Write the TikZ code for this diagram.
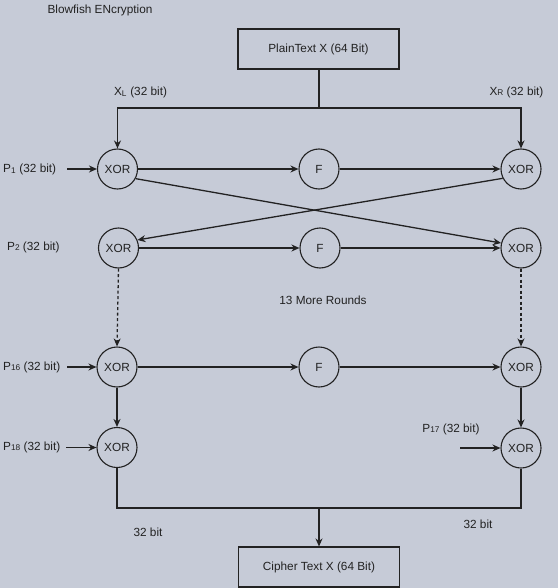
\documentclass[tikz,border=0pt]{standalone}
\usepackage{fontspec}
\setmainfont{Liberation Sans}
\usetikzlibrary{arrows.meta}
\definecolor{bgc}{RGB}{198,203,215}
\definecolor{ink}{RGB}{34,34,34}
\newcommand{\smtxt}[1]{{\fontsize{8.3}{10}\selectfont #1}}
\begin{document}
\begin{tikzpicture}[x=1pt,y=-1pt,
  every node/.style={font=\fontsize{11.8}{14}\selectfont, text=ink},
  gate/.style={circle, draw=ink, line width=1.1pt, minimum size=40pt, inner sep=0pt},
  blk/.style={rectangle, draw=ink, line width=1.1pt, minimum width=161pt, minimum height=40pt, inner sep=0pt},
  lbl/.style={inner sep=0pt},
  conn/.style={draw=ink, line width=1.3pt},
  arr/.style={conn, -{Stealth[length=8pt,width=7pt]}},
  dotarr/.style={arr, dash pattern=on 3pt off 2.5pt}]
\fill[bgc] (0,0) rectangle (558,588);
\useasboundingbox (0,0) rectangle (558,588);

\node[lbl] (title) at (100,10) {Blowfish ENcryption};
\node[blk] (plain) at (318.5,49) {PlainText X (64 Bit)};
\node[blk] (cipher) at (319,567) {Cipher Text X (64 Bit)};

\node[gate] (x1l) at (117.5,169) {XOR};
\node[gate] (f1) at (319,169) {F};
\node[gate] (x1r) at (521,169) {XOR};
\node[gate] (x2l) at (118.5,248) {XOR};
\node[gate] (f2) at (320,248) {F};
\node[gate] (x2r) at (521,248) {XOR};
\node[gate] (x16l) at (117,367) {XOR};
\node[gate] (f3) at (319,367) {F};
\node[gate] (x16r) at (521,367) {XOR};
\node[gate] (x18l) at (117,447.5) {XOR};
\node[gate] (x17r) at (521,448) {XOR};

\node[lbl] (xl) at (140.5,92) {X$_{\mathrm{L}}$ (32 bit)};
\node[lbl] (xr) at (516.5,92) {X\smtxt{R} (32 bit)};
\node[lbl, anchor=west] (p1) at (3,169) {P$_{\mathrm{1}}$ (32 bit)};
\node[lbl, anchor=west] (p2) at (7,247) {P\smtxt{2} (32 bit)};
\node[lbl, anchor=west] (p16) at (3,367) {P\smtxt{16} (32 bit)};
\node[lbl, anchor=west] (p18) at (3,447) {P\smtxt{18} (32 bit)};
\node[lbl] (p17) at (451,429) {P\smtxt{17} (32 bit)};
\node[lbl] (more) at (323,300) {13 More Rounds};
\node[lbl] (b1) at (148,532) {32 bit};
\node[lbl] (b2) at (478,524) {32 bit};

% top split
\coordinate (tj) at (319,108);
\coordinate (tl) at (117.5,108);
\coordinate (tr) at (521,108);
\draw[conn] (plain.south -| tj) -- (tj);
\draw[arr] (tj) -- (tl) -- (x1l.north);
\draw[arr] (tj) -- (tr) -- (x1r.north);

% P inputs
\coordinate (p1s) at (67,169);
\coordinate (p16s) at (67,367);
\coordinate (p18s) at (66,447.5);
\coordinate (p17s) at (460,448);
\draw[arr] (p1s) -- (x1l.west);
\draw[arr] (p16s) -- (x16l.west);
\draw[arr] (p18s) -- (x18l.west);
\draw[arr] (p17s) -- (x17r.west);

% rows
\draw[arr] (x1l) -- (f1);
\draw[arr] (f1) -- (x1r);
\draw[arr] (x2l) -- (f2);
\draw[arr] (f2) -- (x2r);
\draw[arr] (x16l) -- (f3);
\draw[arr] (f3) -- (x16r);

% crossing
\draw[arr] (x1l.-28) -- (x2r.166);
\draw[arr] (x1r.-153) -- (x2l.23);

% dotted
\draw[dotarr] (x2l.south) -- (x16l.north);
\draw[dotarr] (x2r.south) -- (x16r.north);

% down
\draw[arr] (x16l.south) -- (x18l.north);
\draw[arr] (x16r.south) -- (x17r.north);

% bottom merge
\coordinate (bl) at (117,508);
\coordinate (br) at (521,508);
\coordinate (bj) at (319,508);
\draw[conn] (x18l.south) -- (bl) -- (br) -- (x17r.south);
\draw[arr] (bj) -- (cipher.north);
\end{tikzpicture}
\end{document}
